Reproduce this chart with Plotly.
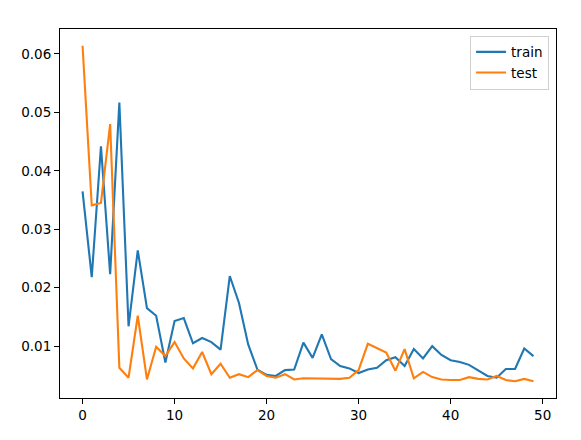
import plotly.graph_objects as go

# 每个 epoch 的损失值
epochs = list(range(50))
train_loss = [0.0365, 0.0218, 0.0442, 0.0223, 0.0517, 0.0134, 0.0264, 0.0165, 0.0152, 0.0072,
              0.0143, 0.0148, 0.0105, 0.0114, 0.0107, 0.0094, 0.0220, 0.0174, 0.0103, 0.0060,
              0.0051, 0.0049, 0.0059, 0.0060, 0.0106, 0.0080, 0.0120, 0.0078, 0.0066, 0.0062,
              0.0054, 0.0060, 0.0063, 0.0076, 0.0081, 0.0066, 0.0095, 0.0079, 0.0100, 0.0085,
              0.0076, 0.0073, 0.0068, 0.0059, 0.0049, 0.0046, 0.0061, 0.0061, 0.0096, 0.0083]
test_loss = [0.0614, 0.0341, 0.0345, 0.0480, 0.0063, 0.0046, 0.0152, 0.0043, 0.0099, 0.0083,
             0.0107, 0.0079, 0.0062, 0.0090, 0.0052, 0.0070, 0.0046, 0.0052, 0.0047, 0.0059,
             0.0049, 0.0046, 0.0052, 0.0043, 0.0045, 0.0045, 0.0044, 0.0044, 0.0044, 0.0046,
             0.0059, 0.0104, 0.0097, 0.0089, 0.0058, 0.0095, 0.0045, 0.0056, 0.0047, 0.0043,
             0.0042, 0.0042, 0.0047, 0.0044, 0.0043, 0.0049, 0.0042, 0.0040, 0.0044, 0.0040]

x_ticks = [0, 10, 20, 30, 40, 50]
y_ticks = [0.01, 0.02, 0.03, 0.04, 0.05, 0.06]
y_labels = ["0.01", "0.02", "0.03", "0.04", "0.05", "0.06"]

fig = go.Figure()
fig.add_trace(go.Scatter(x=epochs, y=train_loss, mode="lines", name="train",
                         line=dict(color="#1f77b4", width=2.1)))
fig.add_trace(go.Scatter(x=epochs, y=test_loss, mode="lines", name="test",
                         line=dict(color="#ff7f0e", width=2.1)))

axis_style = dict(showgrid=False, zeroline=False, showline=True, mirror=True,
                  linecolor="black", linewidth=1.1, ticks="outside", ticklen=5,
                  tickwidth=1.1, tickcolor="black",
                  tickfont=dict(family="DejaVu Sans", size=13.5, color="black"))

fig.update_xaxes(range=[-2.45, 51.45], tickvals=x_ticks, **axis_style)
fig.update_yaxes(range=[0.00113, 0.06427], tickvals=y_ticks, ticktext=y_labels, **axis_style)

# 页面 body 默认有 8px 边距，这里把宽高和左/上边距各减 8 来抵消
fig.update_layout(
    width=573, height=432,
    margin=dict(l=52, r=25, t=21, b=42),
    plot_bgcolor="white", paper_bgcolor="white",
    font=dict(family="DejaVu Sans", size=13.5, color="black"),
    legend=dict(x=0.986, y=0.982, xanchor="right", yanchor="top",
                bgcolor="white", bordercolor="#d0d0d0", borderwidth=1,
                font=dict(size=13.5)),
)

fig.write_html("out.html")
